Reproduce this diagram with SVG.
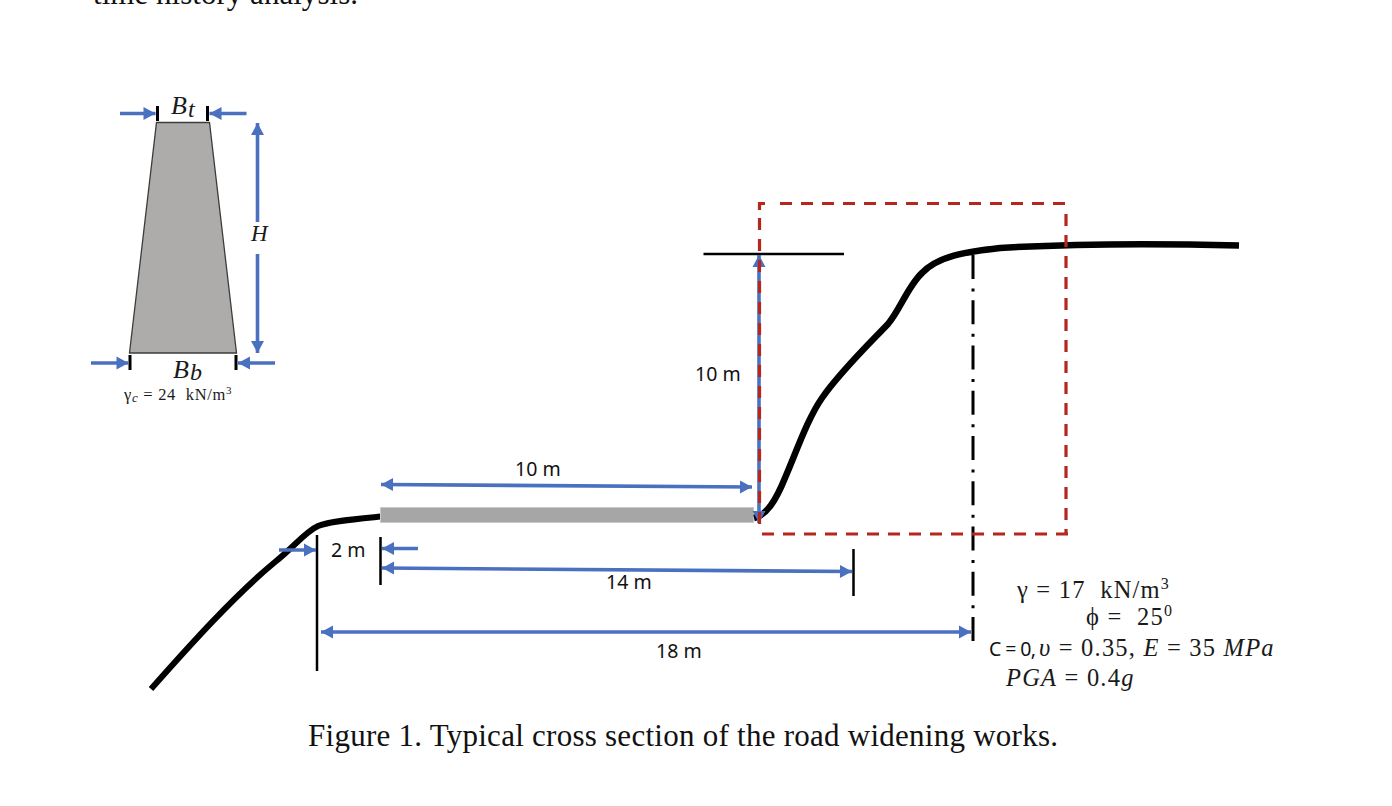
<svg xmlns="http://www.w3.org/2000/svg" width="1392" height="806" viewBox="0 0 1392 806">
<style>
.d{stroke:#4a70c0;stroke-width:3.600;fill:none}
.k{stroke:#000;fill:none}
.m{font-family:"Liberation Serif",serif;fill:#1a1a1a;white-space:pre}
.i{font-style:italic}
.s{font-family:"Noto Sans",sans-serif;font-size:19.500px;fill:#111}
.r{stroke:#b5261e;stroke-width:3.200;fill:none;stroke-dasharray:12 9}
</style>
<defs>
<marker id="a" markerUnits="userSpaceOnUse" markerWidth="14" markerHeight="14" refX="12" refY="6.500" orient="auto-start-reverse" overflow="visible"><path d="M0 0L12 6.500L0 13Z" fill="#4a70c0"/></marker>
</defs>
<rect width="1392" height="806" fill="#fff"/>
<text x="93" y="4" font-family="Liberation Serif,serif" font-size="31" fill="#111" textLength="265">time history analysis.</text>
<g id="retaining-wall">
<path d="M156.500 122.500H209.500L236.500 353H129.500Z" fill="#aeacaa" stroke="#3c3c3c" stroke-width="1.300"/>
<path class="k" stroke-width="3" d="M157.500 106V121M207.500 106V121M130 355V370M236 355V370"/>
<text class="m i" x="171" y="114" font-size="26" letter-spacing="1">B<tspan font-size="24" dy="3">t</tspan></text>
<text class="m i" x="173" y="378" font-size="26" letter-spacing="1">B<tspan font-size="24" dy="2">b</tspan></text>
<text class="m i" x="251" y="241" font-size="23">H</text>
<text class="m" x="124" y="400" font-size="16.500" letter-spacing=".7">γ<tspan class="i" font-size="13" dy="2">c</tspan><tspan dy="-2"> = 24  kN/m</tspan><tspan font-size="11" dy="-6">3</tspan></text>
</g>
<g id="road-section">
<path class="k" stroke-width="6" d="M151 689C190 645 235 595 275 562C295 546 305 532 318 526C330 521 355 519 381 516.500"/>
<rect x="380.500" y="507.500" width="373" height="15" fill="#a6a6a6" stroke="#c9c9c9" stroke-width="1"/>
<path class="k" stroke-width="6.500" d="M754 518C767 515 776 500 785 478C797 450 808 418 822 398C840 372 868 345 888 324C900 310 908 286 922 273C938 256 965 252 1000 248C1050 245 1140 243 1239 245.500"/>
</g>
<g id="connectors">
<path class="k" stroke-width="2.500" d="M703.500 254H844"/>
<path class="d" d="M759 523V255" marker-start="url(#a)" marker-end="url(#a)"/>
<path class="k" stroke-width="2.500" d="M317 535V671M380.500 537V585M853.500 549V596"/>
<path class="k" stroke-width="3" stroke-dasharray="24 9.500 3 8.750" d="M973 255V641"/>
<path class="d" d="M120 113.500H155.500" marker-end="url(#a)"/>
<path class="d" d="M246.500 113.500H209.500" marker-end="url(#a)"/>
<path class="d" d="M257.500 222V123" marker-end="url(#a)"/>
<path class="d" d="M257.500 254V353" marker-end="url(#a)"/>
<path class="d" d="M91 363H128.500" marker-end="url(#a)"/>
<path class="d" d="M275 363H238" marker-end="url(#a)"/>
<path class="d" d="M381 484.500L752 487" marker-start="url(#a)" marker-end="url(#a)"/>
<path class="d" d="M279 550H316" marker-end="url(#a)"/>
<path class="d" d="M418 548.500H382" marker-end="url(#a)"/>
<path class="d" d="M382 568L852 571.500" marker-start="url(#a)" marker-end="url(#a)"/>
<path class="d" d="M321 632H971" marker-start="url(#a)" marker-end="url(#a)"/>
</g>
<g id="slope-box">
<path class="r" d="M759.500 218V526"/>
<path class="r" d="M759.500 210V203.500H772"/>
<path class="r" d="M780 203.500H1067"/>
<path class="r" d="M1066 214V534"/>
<path class="r" d="M1068 534H760"/>
</g>
<g id="labels">
<text class="s" x="695" y="381">10 m</text>
<text class="s" x="515" y="476">10 m</text>
<text class="s" x="331" y="557">2 m</text>
<text class="s" x="606" y="589">14 m</text>
<text class="s" x="656" y="658">18 m</text>
<text class="m" x="1017" y="598" font-size="24.500" letter-spacing="1.200">γ = 17  kN/m<tspan font-size="16" dy="-9">3</tspan></text>
<text class="m" x="1086" y="625" font-size="24.500" letter-spacing="1.200">ϕ =  25<tspan font-size="16" dy="-9">0</tspan></text>
<text x="989" y="656" font-family="Noto Sans,sans-serif" font-size="19.500" fill="#111" letter-spacing="-.6">C = 0,</text>
<text class="m" x="1039" y="656" font-size="24.500" letter-spacing="1.200"><tspan class="i">υ</tspan> = 0.35, <tspan class="i">E</tspan> = 35 <tspan class="i">MPa</tspan></text>
<text class="m" x="1006" y="686" font-size="24.500" letter-spacing="1.200"><tspan class="i">PGA</tspan> = 0.4<tspan class="i">g</tspan></text>
<text x="308" y="746" font-family="Liberation Serif,serif" font-size="31" fill="#111" textLength="750">Figure 1. Typical cross section of the road widening works.</text>
</g>
</svg>
